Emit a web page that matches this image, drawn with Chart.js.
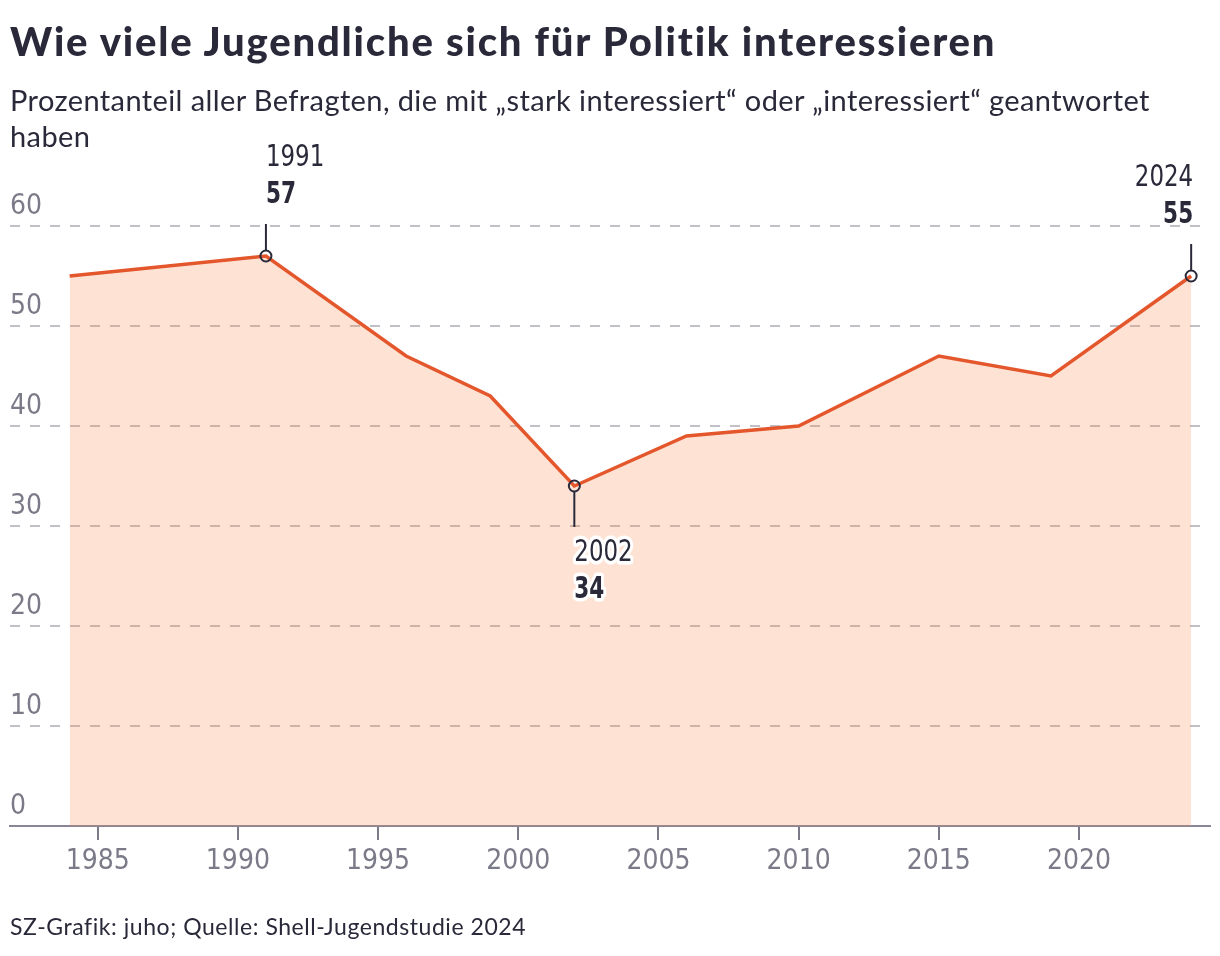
<!DOCTYPE html>
<html><head><meta charset="utf-8">
<script src="https://cdn.jsdelivr.net/npm/chart.js@4.4.1/dist/chart.umd.min.js"></script>
<style>
body{margin:0;background:#fff;width:1220px;height:956px;overflow:hidden;position:relative;color:#29293a}
#c{position:absolute;left:0;top:0}
.t{position:absolute;left:10px;margin:0;white-space:nowrap}
#title{top:16px;font-family:Lato,sans-serif;font-size:40px;line-height:50px;font-weight:900;letter-spacing:1.8px}
#sub{top:82px;font-family:Lato,sans-serif;font-size:29px;font-weight:400;line-height:36px;letter-spacing:0.4px}
#foot{top:912px;font-family:Lato,sans-serif;font-size:23px;letter-spacing:0.55px}
</style></head>
<body>
<canvas id="c" width="1220" height="956"></canvas>
<div class="t" id="title">Wie viele Jugendliche sich für Politik interessieren</div>
<div class="t" id="sub">Prozentanteil aller Befragten, die mit „stark interessiert“ oder „interessiert“ geantwortet<br>haben</div>
<div class="t" id="foot">SZ-Grafik: juho; Quelle: Shell-Jugendstudie 2024</div>
<script>
const years = [1984, 1991, 1996, 1999, 2002, 2006, 2010, 2015, 2019, 2024];
const values = [55, 57, 47, 43, 34, 39, 40, 47, 45, 55];
const xTickValues = [1985, 1990, 1995, 2000, 2005, 2010, 2015, 2020];
const yTickValues = [0, 10, 20, 30, 40, 50, 60];
const highlightYears = [1991, 2002, 2024];
const highlightPlacement = ['above-left', 'below-left', 'above-right'];

const INK = '#29293a';
const GREY = '#7b7a88';
const NARROW = '"Liberation Sans Narrow", "DejaVu Sans Condensed", sans-serif';

const annotPlugin = {
  id: 'annot',
  afterDatasetsDraw(chart) {
    const ctx = chart.ctx;
    const xs = chart.scales.x, ys = chart.scales.y;
    ctx.save();
    highlightYears.forEach((yr, k) => {
      const i = years.indexOf(yr);
      const v = values[i];
      const px = xs.getPixelForValue(yr), py = ys.getPixelForValue(v);
      const place = highlightPlacement[k];
      const above = place.startsWith('above');
      ctx.strokeStyle = INK; ctx.lineWidth = 2;
      ctx.beginPath();
      if (above) { ctx.moveTo(px, py - 6); ctx.lineTo(px, py - 32); }
      else { ctx.moveTo(px, py + 6); ctx.lineTo(px, py + 41); }
      ctx.stroke();
      const align = place.endsWith('right') ? 'right' : 'left';
      const tx = align === 'right' ? px + 2 : px;
      const y1 = above ? py - 98 : py + 67;
      const y2 = above ? py - 61 : py + 104;
      const lines = [[String(yr), '400 30px ' + NARROW, y1, 0.85], [String(v), '700 30px ' + NARROW, y2, 0.8]];
      lines.forEach(([txt, f, yy, sx]) => {
        ctx.save();
        ctx.translate(tx, yy);
        ctx.scale(sx, 1);
        ctx.font = f;
        ctx.textAlign = align; ctx.textBaseline = 'middle';
        if (!above) { ctx.strokeStyle = '#fff'; ctx.lineWidth = 7; ctx.lineJoin = 'round'; ctx.strokeText(txt, 0, 0); }
        ctx.fillStyle = INK; ctx.fillText(txt, 0, 0);
        ctx.restore();
      });
    });
    ctx.restore();
  }
};

new Chart(document.getElementById('c'), {
  type: 'line',
  data: {
    datasets: [{
      data: years.map((y, i) => ({ x: y, y: values[i] })),
      borderColor: '#e4562b',
      borderWidth: 3.5,
      backgroundColor: 'rgba(250,140,80,0.24)',
      fill: 'origin',
      tension: 0,
      clip: false,
      pointRadius: c => highlightYears.includes(years[c.dataIndex]) ? 5.5 : 0,
      pointBorderColor: INK,
      pointBorderWidth: 2,
      pointBackgroundColor: 'rgba(0,0,0,0)'
    }]
  },
  options: {
    responsive: false,
    animation: false,
    events: [],
    layout: { padding: { left: 10, right: 10, top: 226, bottom: 60 } },
    plugins: { legend: { display: false }, tooltip: { enabled: false } },
    scales: {
      x: {
        type: 'linear', min: 1981.872, max: 2024.672,
        afterBuildTicks: s => { s.ticks = xTickValues.map(v => ({ value: v })); },
        afterFit: s => { s.height = 70; },
        grid: { drawOnChartArea: false, drawTicks: true, tickLength: 14, color: GREY, lineWidth: 2 },
        border: { display: true, color: '#8a8697', width: 2 },
        ticks: { padding: 5, color: GREY, font: { family: NARROW, size: 28 }, callback: v => String(v), maxRotation: 0 }
      },
      y: {
        min: 0, max: 60,
        afterBuildTicks: s => { s.ticks = yTickValues.map(v => ({ value: v })); },
        afterFit: s => { s.width = 0; },
        grid: { drawTicks: false, color: '#c0c0c6', lineWidth: 2 },
        border: { display: false, dash: [10, 10] },
        ticks: { mirror: true, padding: 0, labelOffset: -19, color: GREY, font: { family: NARROW, size: 28 }, callback: v => String(v) }
      }
    }
  },
  plugins: [annotPlugin]
});
</script>
</body></html>
